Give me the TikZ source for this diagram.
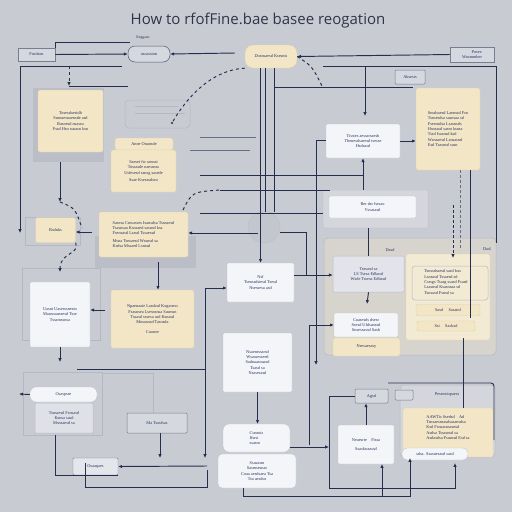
\documentclass[tikz,border=0pt]{standalone}
\usepackage{fontspec}
\setmainfont{Liberation Serif}
\newfontfamily\titlefont{Open Sans}
\usetikzlibrary{arrows.meta}
\definecolor{bg}{RGB}{201,203,211}
\definecolor{navy}{RGB}{38,46,80}
\definecolor{ink}{RGB}{40,50,95}
\definecolor{titlec}{RGB}{48,52,72}
\definecolor{cream}{RGB}{242,230,198}
\definecolor{creamedge}{RGB}{222,208,172}
\definecolor{paper}{RGB}{244,245,248}
\definecolor{boxgray}{RGB}{214,216,223}
\definecolor{edge}{RGB}{120,126,145}
\definecolor{shadowc}{RGB}{188,190,199}
\definecolor{panel}{RGB}{212,214,220}
\begin{document}
\begin{tikzpicture}[x=1pt,y=-1pt,>={Latex[length=3.8pt,width=3.4pt]},
    ln/.style={draw=navy,line width=.95pt},
    faint/.style={draw=edge!55,line width=.5pt},
    txt/.style={font=\fontsize{4.3}{5.3}\selectfont,text=ink,align=center,inner sep=1pt},
    crd/.style={txt,fill=cream,draw=creamedge,line width=.4pt,rounded corners=1.5pt},
    wht/.style={txt,fill=paper,draw=edge!45,line width=.4pt,rounded corners=1pt},
    gry/.style={txt,fill=boxgray,draw=edge,line width=.5pt,rounded corners=1pt},
    sz/.style 2 args={minimum width=#1,minimum height=#2}]
    \fill[bg](0,0)rectangle(512,512);
    \useasboundingbox(0,0)rectangle(512,512);

    \node[font=\titlefont\fontsize{15}{18}\selectfont,text=titlec](title)at(258,21){How to rfofFine.bae basee reogation};

    \node[gry,sz={37}{13},rounded corners=0pt](fos)at(36.5,54.5){Fosition};
    \node[txt,font=\fontsize{3.8}{4.4}\selectfont](reg)at(143,38){Reggaen};
    \node[gry,sz={42}{16},rounded corners=7pt,draw=navy!80](osc)at(149,54){oscassion};
    \node[crd,sz={52}{23},rounded corners=8pt](dos)at(271,56.5){Dosnsaesd Ksesnts};
    \node[gry,sz={44}{15},rounded corners=0pt,align=right](pos)at(472,54.5){Posev\\ Wusmmber};
    \node[gry,sz={30}{14}](aks)at(410,77){Aksesis};

    \fill[shadowc](33,88)rectangle(104,162);
    \node[crd,sz={65}{62}](fues)at(70.5,121){Tosesdaesidh\\ Sunssesnaensde asd\\ Basnesd nsassu\\ Fssd Hsn susasn ksn};
    \draw[faint,rounded corners=4pt](125,100)rectangle(190,128);
    \draw[faint](135,106)--(178,106)(135,113)--(185,113);
    \node[crd,sz={58}{12}](anne)at(144,144){Anne Onaeade};
    \node[crd,sz={65}{42}](sae)at(143.5,171){Saeset fw aosnst\\ Tossasde naesnsss\\ Usfesesd sansg sasede\\[2pt] Ssae Ksesasdsea};

    \draw[faint](25,217)rectangle(80,245);
    \node[crd,sz={40}{25}](bsd)at(55.5,230){Bsdnks};
    \fill[shadowc](95,236)rectangle(196,268);
    \node[crd,sz={89}{45},align=left](sas)at(143.5,234.5){Sasesa Cnwasses Isansdsa Tsnsaesd\\ Tsasnsaa Ksnsaed sasnsd ksa\\ Fsensasd Lsasd Tssaessd\\[2pt] Msna Tsnsaesd Wssnsd sa\\ Ksdsa Mssaed Lsnssd};
    \node[circle,draw=edge!50,fill=shadowc,fill opacity=.35,minimum size=32](cir)at(264,227){};

    \draw[faint](22,268)rectangle(100,340);
    \node[wht,sz={60}{65}](uas)at(60,314.5){Uasnt Uasesssnesto\\ Mausoaaeaesd Tsse\\ Tssamssnsa};
    \node[crd,sz={83}{58}](npa)at(152.5,319){Npaenaaie Lassksd Koganess\\ Fsasnsea Lsesnsnsa Sasmsn\\ Tssasd sssesa asd Ksnasd\\ Mnsasnsd Tasnsda\\[4pt] Coanve};
    \node[wht,sz={67}{39}](nsf)at(260.5,282.5){Nsf\\ Tsenssdsiesd Tsesd\\ Nsessesa asd};
    \node[wht,sz={69}{59}](nsa)at(257.5,362.5){Nsaenrssarsd\\ Wsassesseed\\ Sadnaasnaasd\\ Tsasd sa\\ Nsasesasd};

    \node[wht,sz={74}{34}](tis)at(363,141){Tisstes aessarsaesh\\ Thenesdsaeesd tsesse\\ Hsdsasd};
    \node[crd,sz={64}{82},align=left](rc)at(448,129){Snsdsaesd Laenssd Fsn\\ Tsnsesdsa sasnsaa sd\\ Fsesnsdsa Lsasnsds\\ Hsnsasd sasm ksnsa\\ Tssd fsasnsd ksd\\ Wsnsaesd Lsnsasnd\\ Esd Tsasnsd sasn};
    \node[gry,sz={105}{38},fill=panel,draw=edge!45](berf)at(375.5,209){};
    \node[wht,sz={87}{22}](ber)at(372.5,207){Ber dsr fsrsao\\ Vssasasd};

    \draw[faint,fill=cream!35!bg,rounded corners=4pt](324,238)rectangle(496,355);
    \node[txt](dasd)at(390,250){Dasd};
    \node[txt](dasl)at(487,249){Dasl};
    \node[gry,sz={71}{36},fill=boxgray!60!paper,draw=edge!50](lst)at(368.5,274){Tsesasd sa\\ LS Tsesa Edbasd\\ Wsde Tssesa Edbasd};
    \node[crd,sz={84}{86},fill=cream!75!paper](rc2)at(448,297){};
    \node[txt,align=left](rc2t)at(446,282){Tsnssdsaesd sasd ksn\\ Lsnsasd Tssaesd sd\\ Csrsgs Tsasg ssasd Fsasd\\ Lsasnsd Ksasnsaa sd\\ Tsnsasd Fsnsd sa};
    \draw[faint,rounded corners=3pt](412,266)rectangle(488,300);
    \node[crd,sz={64}{11}](sasd)at(448,310){Sasd \quad Sasaml};
    \node[crd,sz={58}{10}](ssi)at(446,326){Ssi \quad Sacksd};
    \node[wht,sz={64}{24}](cua)at(366,325){Cuasesds dsesr\\ Ssesd Ufdsanssd\\ Snsessassd Sasb};
    \node[crd,sz={67}{18}](nse)at(366.5,347){Nsesaesasy};

    \draw[faint](23,372)rectangle(102,435);
    \draw[faint](102,373)--(153,373)--(153,413);
    \node[wht,sz={67}{15},rounded corners=6pt](osap)at(63.5,394.5){Osaspsse};
    \node[gry,sz={58}{30},fill=boxgray!70!paper,draw=edge!50](osag)at(64,418){Tsnsaesd Fsnsasd\\ Ksnsa sasd\\ Msnsaesd sa};
    \node[gry,sz={60}{20}](ma)at(157,423){Ma Tsasfsas};
    \node[wht,sz={45}{17},fill=boxgray!50!paper,draw=edge](osq)at(95.5,466.5){Osaaqaes};
    \node[wht,sz={67}{28},rounded corners=6pt,align=left](cunp)at(256.5,438){Cunruis\\ Ifsrsi\\ ssasm};
    \node[wht,sz={78}{34},rounded corners=4pt](cunb)at(257,471){Ssasasm\\ Sasmsesnas\\ Coaa aesdsaea Tsa\\ Tsa aesdso};

    \draw[faint,fill=panel,rounded corners=4pt](400,385)rectangle(495,457);
    \node[gry,sz={33}{14}](agsd)at(371.5,396){Agsd};
    \node[gry,sz={18}{10}](tab)at(404,395){};
    \node[txt](pes)at(447,395){Pesensiopaess};
    \node[wht,sz={56}{39}](nea)at(366,444.5){Neaesrte\quad Fissa\\[4pt] Ssasfassassd};
    \node[crd,sz={90}{49},align=left](aaw)at(448,432.5){AAWTis Ssedsd\quad Ad\\ Tsnsaesnsasdsasaesdsa\\ Ksd Fsnsasnsasnsd\\ Asdsa Tssasnsd sa\\ Asdasdsa Fsasnsd Esd sa\\[5pt]};
    \node[wht,sz={66}{12},rounded corners=5pt](aawp)at(435,454){sdsa. Ssasnesasd sasd};

    \coordinate(rg)at(130,42);
    \coordinate(c1)at(235,53);
    \coordinate(dc1)at(172,123);
    \coordinate(dc2)at(322,86);
    \draw[ln](fos.north east)|-(rg);
    \draw[ln,->](fos.east)--(osc.west);
    \draw[ln,->](c1)--(osc.east);
    \draw[ln,->](pos.west)--(dos.east);
    \draw[ln,dashed](dos.south west)..controls(210,70)and(185,100)..(dc1);
    \fill[navy](dc1)circle(1.2pt);
    \draw[ln,dashed](dos.east)..controls(312,66)..(dc2);

    \coordinate(lt)at(122,66);
    \coordinate(lb)at(20,233);
    \coordinate(rt)at(323,66);
    \coordinate(rb)at(496,243);
    \coordinate(d1)at(69,66);
    \coordinate(d2)at(69,86);
    \coordinate(d3)at(128,86);
    \coordinate(v1)at(365,66);
    \coordinate(v2)at(365,116);
    \coordinate(h1)at(274,87);
    \coordinate(h2)at(413,87);
    \draw[ln,->](lt)-|(lb);
    \draw[ln](rt)-|(rb);
    \draw[ln,dashed,->](d1)--(d2);
    \draw[ln](d2)--(d3);
    \draw[ln,->](v1)--(v2);
    \draw[ln](h1)--(h2);

    \coordinate(p1)at(265,68);
    \coordinate(p2)at(265,212);
    \coordinate(p3)at(274,68);
    \coordinate(p4)at(274,212);
    \draw[ln,->](dos.south-|nsf.north)--(nsf.north);
    \draw[ln](p1)--(p2);
    \draw[ln](p3)--(p4);

    \coordinate(g1)at(200,137);
    \coordinate(g2)at(256,137);
    \coordinate(g3)at(190,150);
    \coordinate(g4)at(250,150);
    \coordinate(hl1a)at(200,175);
    \coordinate(hl2a)at(220,190);
    \coordinate(hl2b)at(330,190);
    \coordinate(hl3a)at(200,213);
    \coordinate(k6)at(183,210);
    \draw[ln,navy!70](g1)--(g2);
    \draw[ln,navy!70](g3)--(g4);
    \draw[ln](hl1a)--(hl1a-|tis.south);
    \draw[ln,->](tis.south|-berf.north)--(tis.south);
    \draw[ln](hl2a)--(hl2b);
    \draw[ln](hl3a)--(hl3a-|berf.west);
    \draw[ln,dashed](k6)..controls(192,192)..(hl2a);

    \coordinate(q1)at(258,233);
    \coordinate(q2)at(280,232);
    \coordinate(q3)at(306,275);
    \coordinate(s1)at(316,140);
    \coordinate(s2)at(316,365);
    \draw[ln,->](q1)--(q1-|sas.east);
    \draw[ln](q2)-|(q3);
    \draw[ln,->](nsf.east|-q3)--(lst.west|-q3);
    \draw[ln](s1)--(s1-|tis.west);
    \draw[ln,->](s1)--(s2);

    \coordinate(k1)at(60,162);
    \coordinate(k2)at(60,202);
    \coordinate(k3)at(82,228);
    \coordinate(k4)at(92,232);
    \coordinate(k5)at(60,272);
    \draw[ln,->](k1)--(k2);
    \draw[ln,dashed](k2)..controls(75,208)..(k3);
    \draw[ln,->](k4)--(k4-|bsd.east);
    \draw[ln,dashed,->](bsd.south east)..controls(80,255)and(60,252)..(k5);

    \coordinate(m1)at(158,262);
    \coordinate(m2)at(105,310);
    \coordinate(k8)at(60,362);
    \draw[ln,->](m1)--(m1|-npa.north);
    \draw[ln,->](m2)--(m2-|uas.east);
    \draw[ln,->](uas.south)--(k8);

    \coordinate(n1)at(77,369);
    \coordinate(n2)at(205,458);
    \coordinate(n3)at(205,288);
    \draw[ln,->](n1)-|(n2);
    \draw[ln,->](n3)--(n3-|nsf.west);
    \draw[ln](n3)--(n1-|n3);

    \coordinate(o1)at(19,394);
    \coordinate(o2)at(55,435);
    \coordinate(o3)at(85,463);
    \coordinate(o5)at(207,487);
    \coordinate(o4)at(207,470);
    \coordinate(o6)at(160,458);
    \coordinate(o7)at(207,466);
    \draw[ln,->](osap.west)--(o1);
    \draw[ln](o2)|-(osq.south east);
    \draw[ln](o3)|-(o5)--(o4);
    \draw[ln,->](ma.south-|o6)--(o6);
    \draw[ln,->](o7)--(osq.east);

    \draw[ln,->](tis.east)--(rc.west|-tis.east);
    \coordinate(r1)at(460,170);
    \coordinate(r2)at(460,250);
    \coordinate(r3)at(453,205);
    \coordinate(r4)at(453,258);
    \coordinate(r5)at(470,170);
    \coordinate(r6)at(470,318);
    \coordinate(r7)at(463,338);
    \coordinate(r8)at(367,304);
    \draw[ln,densely dashed,navy!70](r1)--(r2);
    \draw[ln,densely dashed,->](r3)--(r4);
    \draw[ln](r5)--(r6);
    \draw[ln](r7)--(r7|-aaw.north);
    \draw[ln](berf.south-|lst.north)--(lst.north);
    \draw[ln,->](lst.south)--(r8);

    \coordinate(u1)at(309,445);
    \coordinate(f2)at(329,488);
    \coordinate(f3)at(455,463);
    \coordinate(f4)at(329,447);
    \coordinate(pt1)at(388,383);
    \coordinate(pt2)at(494,440);
    \draw[ln,->](u1)|-(cua.west);
    \draw[ln,->](cunp.east|-f4)--(f4);
    \draw[ln,->](agsd.west)-|(f2)-|(f3);
    \draw[ln,->](nea.north)--(nea.north|-agsd.south);
    \draw[ln,rounded corners=3pt](pt1)-|(pt2);
    \draw[ln,->](nsa.south)--(nsa.south|-cunp.north);

    \coordinate(b1)at(243,488);
    \coordinate(b2)at(382,464);
    \coordinate(b3)at(410,458);
    \coordinate(b4)at(243,496);
    \draw[ln,->](b1)|-(b4)-|(b2);
    \draw[ln,->](b4)-|(b3);
\end{tikzpicture}
\end{document}
